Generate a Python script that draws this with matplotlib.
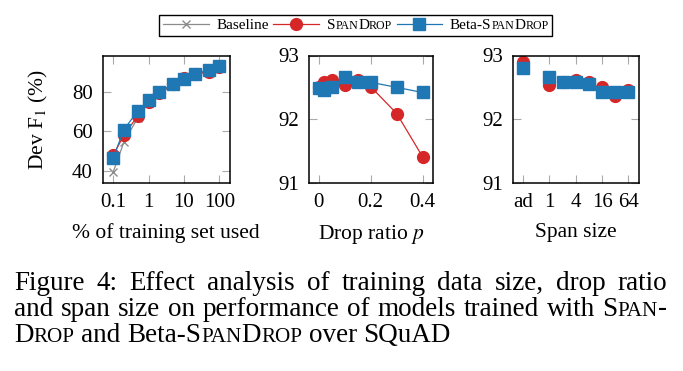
import re
import matplotlib
matplotlib.use("Agg")
import matplotlib.pyplot as plt
from matplotlib.ticker import FixedLocator, LogLocator, NullFormatter

plt.rcParams['font.family'] = ['Liberation Serif', 'DejaVu Serif']
plt.rcParams['mathtext.fontset'] = 'stix'

# ---------------- data ----------------
train_pct = [0.1, 0.2, 0.5, 1, 2, 5, 10, 20, 50, 100]
base_train = [39.5, 54.5, 67.0, 74.5, 79.0, 83.5, 86.5, 88.5, 90.5, 92.0]
span_train = [48.0, 58.0, 68.0, 75.0, 79.5, 84.0, 87.0, 89.0, 90.0, 92.5]
beta_train = [46.6, 60.8, 70.5, 75.7, 79.8, 84.1, 86.6, 89.2, 91.0, 92.8]

drop_ratio = [0, 0.02, 0.05, 0.1, 0.15, 0.2, 0.3, 0.4]
span_drop = [92.50, 92.58, 92.62, 92.54, 92.62, 92.51, 92.09, 91.41]
beta_drop = [92.49, 92.46, 92.51, 92.66, 92.58, 92.58, 92.50, 92.42]

# 'ad' (adaptive) is drawn at 1/4 on the log2 axis
span_size = [0.25, 1, 2, 4, 8, 16, 32, 64]
span_size_ticks = [0.25, 1, 4, 16, 64]
span_size_labels = ['ad', '1', '4', '16', '64']
span_spansz = [92.90, 92.53, 92.59, 92.62, 92.58, 92.51, 92.37, 92.46]
beta_spansz = [92.80, 92.66, 92.58, 92.58, 92.56, 92.42, 92.42, 92.43]

legend_labels = ['Baseline', 'S{PAN}D{ROP}', 'Beta-S{PAN}D{ROP}']
caption = ['Figure 4: Effect analysis of training data size, drop ratio',
           'and span size on performance of models trained with S{PAN}-',
           'D{ROP} and Beta-S{PAN}D{ROP} over SQuAD']

RED = '#d62728'
BLUE = '#1f77b4'
GRAY = '#8c8c8c'
W, H = 683, 371
SC = 0.78  # small caps scale

fig = plt.figure(figsize=(W / 100, H / 100), dpi=100)
ax1 = fig.add_axes([102.5 / W, 1 - 183 / H, 127.5 / W, 127.5 / H])
ax2 = fig.add_axes([308.5 / W, 1 - 183 / H, 124.5 / W, 127.5 / H])
ax3 = fig.add_axes([512.5 / W, 1 - 183 / H, 126.5 / W, 127.5 / H])

mk = dict(lw=0.9)
ax1.plot(train_pct, base_train, color=GRAY, marker='x', ms=6, mew=1.0, **mk)
ax1.plot(train_pct, span_train, color=RED, marker='o', ms=8.5, **mk)
ax1.plot(train_pct, beta_train, color=BLUE, marker='s', ms=9, **mk)
ax1.set_xscale('log')
ax1.set_xlim(0.05, 200)
ax1.set_ylim(34, 98.3)
ax1.xaxis.set_major_locator(FixedLocator([0.1, 1, 10, 100]))
ax1.set_xticklabels(['0.1', '1', '10', '100'])
ax1.xaxis.set_minor_locator(LogLocator(base=10, subs=range(2, 10)))
ax1.xaxis.set_minor_formatter(NullFormatter())
ax1.set_yticks([40, 60, 80])
ax1.set_xlabel('% of training set used')
ax1.set_ylabel(r'Dev F$_1$ (%)', labelpad=16)

ax2.plot(drop_ratio, span_drop, color=RED, marker='o', ms=8.5, **mk)
ax2.plot(drop_ratio, beta_drop, color=BLUE, marker='s', ms=9, **mk)
ax2.set_xlim(-0.04, 0.44)
ax2.set_ylim(91, 93)
ax2.set_xticks([0, 0.2, 0.4])
ax2.set_xticklabels(['0', '0.2', '0.4'])
ax2.set_yticks([91, 92, 93])
ax2.set_xlabel(r'Drop ratio $p$')

ax3.plot(span_size, span_spansz, color=RED, marker='o', ms=8.5, ls='none')
ax3.plot(span_size, beta_spansz, color=BLUE, marker='s', ms=9, ls='none')
ax3.set_xscale('log', base=2)
ax3.set_xlim(2 ** -2.8, 2 ** 6.8)
ax3.set_ylim(91, 93)
ax3.xaxis.set_major_locator(FixedLocator(span_size_ticks))
ax3.set_xticklabels(span_size_labels)
ax3.xaxis.set_minor_locator(FixedLocator([]))
ax3.set_yticks([91, 92, 93])
ax3.set_xlabel('Span size')

for ax in (ax1, ax2, ax3):
    ax.tick_params(which='major', direction='in', top=True, right=True,
                   length=6, width=0.8, color='#aaaaaa', labelsize=15, pad=7)
    ax.tick_params(which='minor', direction='in', top=True, right=True,
                   length=3, width=0.6, color='#aaaaaa')
    ax.xaxis.label.set_size(15.5)
    ax.yaxis.label.set_size(15.5)
    ax.xaxis.labelpad = 8
    for s in ax.spines.values():
        s.set_linewidth(1.1)

# ---------------- small caps helpers ----------------
renderer = fig.canvas.get_renderer()


def pieces(markup):
    out = []
    for i, part in enumerate(re.split(r'[{}]', markup)):
        if part:
            out.append((part, i % 2 == 1))
    return out


def make_texts(markup, size):
    texts = [fig.text(0, 0, s, fontsize=size * (SC if small else 1),
                      va='baseline', ha='left', zorder=10)
             for s, small in pieces(markup)]
    widths = [t.get_window_extent(renderer).width for t in texts]
    return texts, widths


def put(texts, widths, x, y):
    for t, w in zip(texts, widths):
        t.set_position((x / W, y / H))
        x += w
    return x


# ---------------- legend ----------------
leg_size = 11
plain = [re.sub(r'[{}]', '', s) for s in legend_labels]
leg = fig.legend(ax1.get_lines(), plain, loc='center', ncol=3,
                 bbox_to_anchor=(355.5 / W, 1 - 25.5 / H), fontsize=leg_size,
                 fancybox=False, edgecolor='black', framealpha=1,
                 handlelength=3.0, handletextpad=0.5, columnspacing=0.3,
                 borderpad=0.25)
leg.get_frame().set_linewidth(1.0)

overlay = []
for t, markup in zip(leg.get_texts(), legend_labels):
    if '{' not in markup:
        continue
    texts, widths = make_texts(markup, leg_size)
    cur = t.get_window_extent(renderer).width
    t.set_fontsize(leg_size * sum(widths) / cur)
    overlay.append((t, texts, widths))
fig.canvas.draw()
for t, texts, widths in overlay:
    x0, y0 = t.get_transform().transform(t.get_position())
    t.set_visible(False)
    put(texts, widths, x0, y0)

# ---------------- caption ----------------
cap_size = 19.5
cap_left, cap_right = 14, 667
cap_base = [289.5, 315.5, 341.5]
space_w = 0.25 * cap_size * 100 / 72
for line, yb, just in zip(caption, cap_base, [True, True, False]):
    words = [make_texts(w, cap_size) for w in line.split(' ')]
    total = sum(sum(ws) for _, ws in words)
    gap = (cap_right - cap_left - total) / (len(words) - 1) if just else space_w
    x = cap_left
    for texts, widths in words:
        x = put(texts, widths, x, H - yb) + gap

fig.savefig('out.png', dpi=100)
